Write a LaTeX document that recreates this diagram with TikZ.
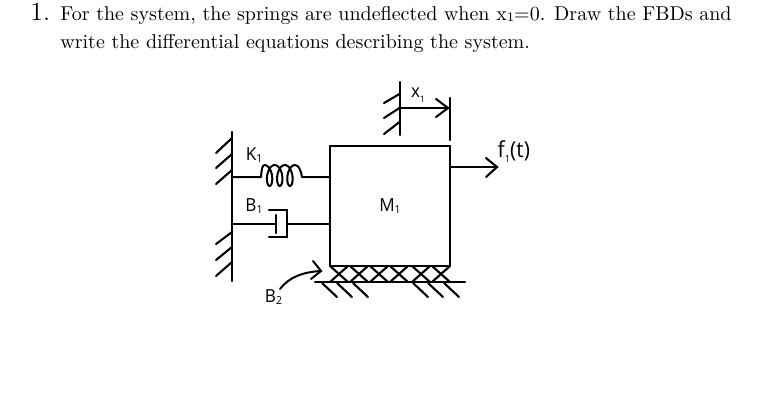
\documentclass[tikz,border=0pt]{standalone}
\usepackage{fontspec}
\newfontfamily\lblfont{Open Sans}
\newcommand{\lowsub}[3][1.6pt]{\raisebox{-#1}{\fontsize{#2}{#2}\selectfont #3}}
\tikzset{
  x=1pt,y=-1pt,
  ln/.style={line width=2.1pt,black,line cap=round,line join=miter},
  hatchln/.style={line width=2.1pt,black,line cap=round},
  openhead/.style={line width=2.1pt,black,line cap=round,line join=miter},
  lbl/.style={font=\lblfont\fontsize{18}{20}\selectfont,inner sep=0pt,text=black,xscale=0.95},
  para/.style={font=\fontsize{10}{12}\selectfont,scale=2,inner sep=0pt,anchor=base west,text=black}
}
\begin{document}
\begin{tikzpicture}
\useasboundingbox (0,0) rectangle (783,415);
\fill[white] (0,0) rectangle (783,415);
% text
\node[para,font=\fontsize{13}{14}\selectfont] (num) at (30,20.5) {1.};
\node[para] (l1) at (60,20) {For the system, the springs are undeflected when x\lowsub[0.8pt]{6.5}{1}=0. Draw the FBDs and};
\node[para] (l2) at (60,48) {write the differential equations describing the system.};
% mass
\node[draw,ln,minimum width=120pt,minimum height=120pt,inner sep=0pt,outer sep=0pt,anchor=north west] (m) at (330,146) {};
\node[lbl] (mlabel) at (390,206) {M\lowsub{11}{1}};
% wall
\coordinate (wt) at (232,132);
\coordinate (wb) at (232,281);
\coordinate (ws) at (232,177);
\coordinate (wd) at (232,224);
\draw[ln] (wt) -- (wb);
\foreach \a/\b in {138/153,154/168,170/184,232/244,247/260,262/276}
  \draw[hatchln] (232,\a) -- (216,\b);
% spring
\coordinate (ms) at (m.west |- ws);
\draw[ln,line width=2pt,line join=round] (ws) -- (261,177) .. controls (261.5,171) and (262,165) .. (264.5,165)
  -- plot[smooth,samples=60,domain=0:18.85,variable=\t] ({264.5+1.62*\t+5*sin(\t r)},{175.5-10.5*cos(\t r)})
  .. controls (299,165) and (301,171) .. (302,177) -- (ms);
\node[lbl] (k1) at (254,155) {K\lowsub{11}{1}};
% damper
\coordinate (md) at (m.west |- wd);
\draw[ln] (wd) -- (276,224);
\draw[ln] (276,215) -- (276,233);
\draw[ln] (269,210) -- (287,210) -- (287,237) -- (269,237);
\draw[ln] (287,224) -- (md);
\node[lbl] (b1) at (254,206) {B\lowsub{11}{1}};
% ground and rollers
\coordinate (gl) at (315,282);
\coordinate (gr) at (465,282);
\draw[ln] (gl) -- (gr);
\foreach \c in {339,359,379,399,421,441}{
  \draw[hatchln] (\c-9,266) -- (\c+9,282);
  \draw[hatchln] (\c+9,266) -- (\c-9,282);
}
\foreach \c in {322,337,353,413,428,444}
  \draw[hatchln] (\c,283) -- (\c+15,297);
% B2 arrow
\node[lbl] (b2) at (273.5,297) {B\lowsub{11}{2}};
\coordinate (btail) at (280,289);
\coordinate (btip) at (321,271);
\draw[ln,line width=2pt] (btail) .. controls (289,277) and (303,272) .. (btip);
\draw[openhead,line width=2pt] (313,261) -- (btip) -- (311,279);
% x1
\coordinate (xw) at (400,108);
\coordinate (xtip) at (448,108);
\draw[ln] (400,82) -- (400,135);
\foreach \a/\b in {94/103,108/118,122/134}
  \draw[hatchln] (399.5,\a) -- (384,\b);
\draw[ln] (xw) -- (xtip);
\draw[openhead] (436,99) -- (xtip) -- (436,117);
\draw[ln] (450,98) -- (450,140);
\node[lbl,anchor=base west] (x1) at (411,97) {x\lowsub[5pt]{9}{1}};
% force
\coordinate (ftip) at (497,167);
\draw[ln] (m.east |- ftip) -- (ftip);
\draw[openhead] (486,158) -- (ftip) -- (486,177);
\node[lbl,anchor=base west,font=\lblfont\fontsize{22}{24}\selectfont,xscale=1] (f1) at (497.5,157) {f\lowsub[5pt]{10}{1}(t)};
\end{tikzpicture}
\end{document}
